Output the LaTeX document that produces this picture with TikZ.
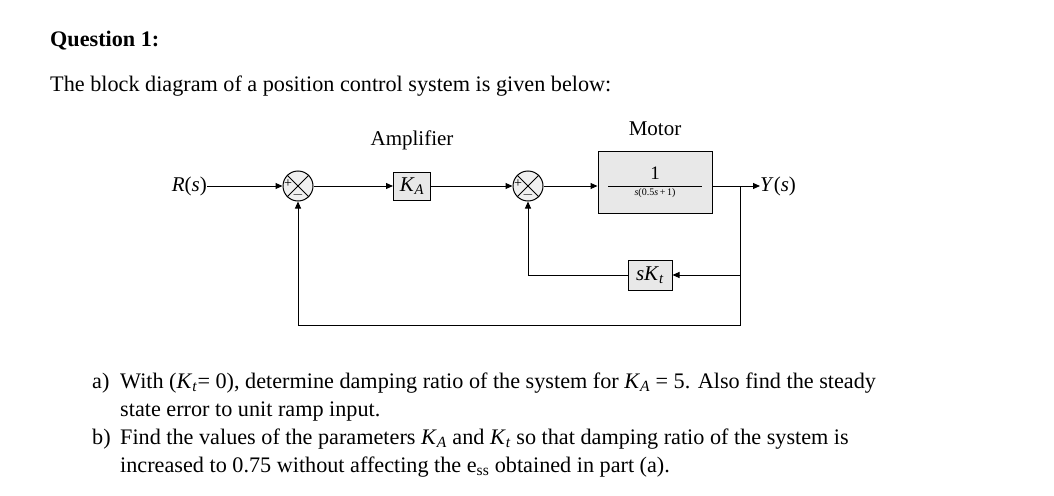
\documentclass[tikz,border=0pt]{standalone}
\usepackage{fontspec}
\setmainfont{Liberation Serif}
\usetikzlibrary{arrows.meta}
\newcommand{\iv}[1]{\textit{#1}}
\begin{document}
\begin{tikzpicture}[x=1pt,y=-1pt,
  blk/.style={draw,line width=1pt,fill=gray!18,inner sep=0pt},
  sum/.style={draw,line width=1pt,circle,fill=gray!12,minimum size=30pt,inner sep=0pt},
  sig/.style={line width=1pt,-{Triangle[length=7pt,width=6pt]}},
  txt/.style={anchor=base west,inner sep=0pt,font=\fontsize{22.2}{26}\selectfont},
  lab/.style={inner sep=0pt,font=\fontsize{21}{25}\selectfont}]
\useasboundingbox (0,0) rectangle (1054,495);
\node[txt,font=\fontsize{22.2}{26}\selectfont\bfseries] (q) at (50,47) {Question 1:};
\node[txt] (intro) at (50,91) {The block diagram of a position control system is given below:};
% diagram
\node[lab,anchor=east] (R) at (207,186) {\iv{R}(\iv{s})};
\node[sum] (s1) at (298,186) {};
\draw[line width=0.8pt] (s1.north west) -- (s1.south east) (s1.north east) -- (s1.south west);
\node[font=\fontsize{14}{14}\selectfont,inner sep=0pt] at (288,184) {+};
\node[font=\fontsize{14}{14}\selectfont,inner sep=0pt] at (298,195) {$-$};
\node[blk,minimum width=37pt,minimum height=28pt] (KA) at (412,186) {\fontsize{21}{25}\selectfont\iv{K}\textsubscript{\iv{A}}};
\node[lab] (amp) at (412,140) {Amplifier};
\node[sum] (s2) at (528,186) {};
\draw[line width=0.8pt] (s2.north west) -- (s2.south east) (s2.north east) -- (s2.south west);
\node[font=\fontsize{14}{14}\selectfont,inner sep=0pt] at (518,184) {+};
\node[font=\fontsize{14}{14}\selectfont,inner sep=0pt] at (528,195) {$-$};
\node[blk,minimum width=114pt,minimum height=62pt,align=center] (G) at (655,182) {\fontsize{19}{25}\selectfont 1\\[-4pt]\rule{94pt}{0.8pt}\\[-4pt]\iv{s}(0.5\iv{s}\,+\,1)};
\node[lab] (mot) at (655,129) {Motor};
\node[lab,anchor=west] (Y) at (760,186) {\iv{Y}(\iv{s})};
\coordinate (br) at (740,186);
\node[blk,minimum width=44pt,minimum height=30pt] (H) at (650,275) {\fontsize{21}{25}\selectfont\iv{sK}\textsubscript{\iv{t}}};
\coordinate (bl) at (740,325);
\draw[sig] (R) -- (s1);
\draw[sig] (s1) -- (KA);
\draw[sig] (KA) -- (s2);
\draw[sig] (s2) -- (G.west |- s2);
\draw[sig] (G.east |- s2) -- (Y);
\draw[sig] (br) |- (H.east);
\draw[sig] (H.west) -| (s2.south);
\draw[sig] (br) -- (bl) -| (s1.south);
% questions
\node[txt] at (92,388) {a)};
\node[txt] at (120,388) {With (\iv{K}\textsubscript{\iv{t}}= 0), determine damping ratio of the system for \iv{K}\textsubscript{\iv{A}} = 5. Also find the steady};
\node[txt] at (120,416) {state error to unit ramp input.};
\node[txt] at (92,444) {b)};
\node[txt] at (120,444) {Find the values of the parameters \iv{K}\textsubscript{\iv{A}} and \iv{K}\textsubscript{\iv{t}} so that damping ratio of the system is};
\node[txt] at (120,472) {increased to 0.75 without affecting the e\textsubscript{ss} obtained in part (a).};
\end{tikzpicture}
\end{document}
